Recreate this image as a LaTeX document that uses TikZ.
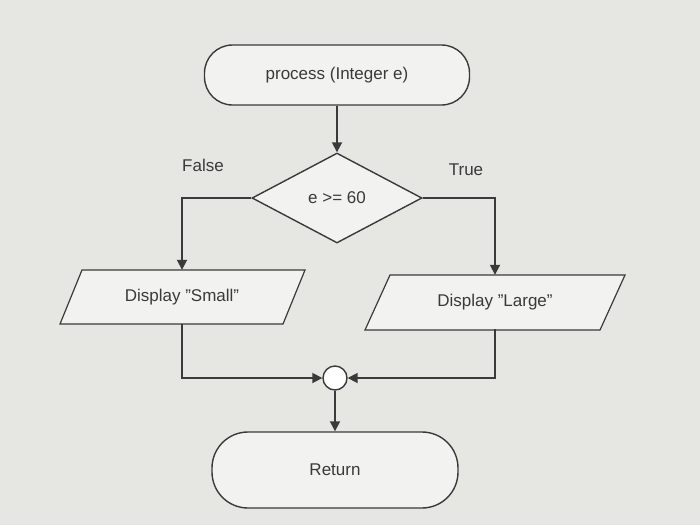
\documentclass[tikz,border=0pt]{standalone}
\usepackage{fontspec}
\setmainfont{Liberation Sans}
\usetikzlibrary{shapes.geometric,arrows.meta}
\definecolor{bg}{HTML}{E6E6E2}
\definecolor{ink}{HTML}{3A3A3A}
\begin{document}
\begin{tikzpicture}[x=1pt,y=-1pt,
  every node/.style={text=ink,font=\fontsize{17}{19}\selectfont},
  term/.style={draw=ink,line width=1.4pt,rounded corners=28pt,fill=white!50!bg,minimum width=265pt,minimum height=60pt},
  dec/.style={diamond,draw=ink,line width=1.4pt,fill=white!50!bg,minimum width=170pt,minimum height=90pt,aspect=1.9,inner sep=0pt},
  io/.style={minimum width=200pt,minimum height=54pt,inner sep=0pt},
  para/.style={draw=ink,line width=1.2pt,fill=white!50!bg},
  conn/.style={draw=ink,line width=1.8pt,-{Triangle[length=10pt,width=10pt]}}]
\fill[bg] (0,0) rectangle (700,525);
\draw[para] (82,270) -- (305,270) -- (283,324) -- (60,324) -- cycle;
\draw[para] (390,275) -- (625,275) -- (600,330) -- (365,330) -- cycle;
\node[term] (start) at (337,75) {process (Integer e)};
\node[dec] (d) at (337,198) {e >= 60};
\node[io] (small) at (182,297) {Display "Small"};
\node[io] (large) at (495,302) {Display "Large"};
\node[circle,draw=ink,line width=1.4pt,fill=white,minimum size=24pt,inner sep=0pt] (j) at (335,378) {};
\node[term,minimum width=246pt,minimum height=76pt,rounded corners=36pt] (ret) at (335,470) {Return};
\node at (203,165) {False};
\node at (466,170) {True};
\draw[conn] (start) -- (d);
\draw[conn] (d.west) -| (small.north);
\draw[conn] (d.east) -| (large.north);
\draw[conn] (small.south) |- (j.west);
\draw[conn] (large.south) |- (j.east);
\draw[conn] (j) -- (ret);
\end{tikzpicture}
\end{document}
